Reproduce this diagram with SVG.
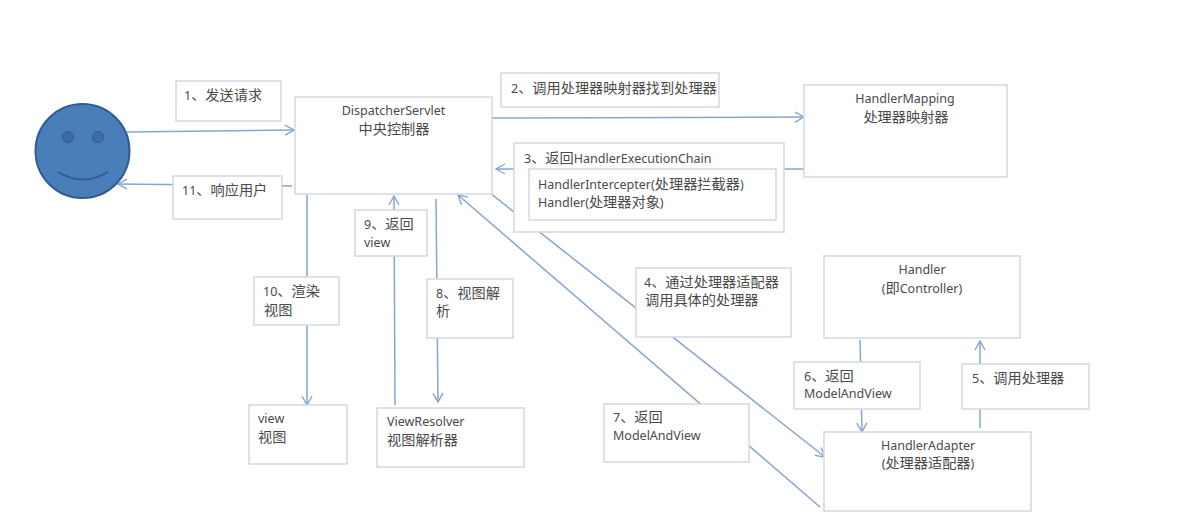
<svg xmlns="http://www.w3.org/2000/svg" width="1194" height="521" viewBox="0 0 1194 521">
<style>
.b{fill:#fff;stroke:#d6d7de;stroke-width:1.5}
.l{fill:none;stroke:#86a5d2;stroke-width:1.5}
text{font-family:"Noto Sans","Noto Sans CJK SC",sans-serif;font-size:12.5px;fill:#4a4a4a}
.c{font-size:14.2px}
.m{text-anchor:middle}
</style>
<defs>
<marker id="a" viewBox="0 0 12 12" refX="11" refY="6" markerWidth="12" markerHeight="12" markerUnits="userSpaceOnUse" orient="auto"><path d="M2 1L11 6L2 11" fill="none" stroke="#86a5d2" stroke-width="1.4"/></marker>
</defs>
<rect width="1194" height="521" fill="#fff"/>
<g id="connectors">
<path class="l" d="M127 132L294 130" marker-end="url(#a)"/>
<path class="l" d="M292 186L118 184" marker-end="url(#a)"/>
<path class="l" d="M492 118L804 117" marker-end="url(#a)"/>
<path class="l" d="M804 169L496 169" marker-end="url(#a)"/>
<path class="l" d="M490 193L825 457" marker-end="url(#a)"/>
<path class="l" d="M820 507L458 195" marker-end="url(#a)"/>
<path class="l" d="M307 195L307 405" marker-end="url(#a)"/>
<path class="l" d="M395 405L394 196" marker-end="url(#a)"/>
<path class="l" d="M436 199L438 402" marker-end="url(#a)"/>
<path class="l" d="M860 340L862 432" marker-end="url(#a)"/>
<path class="l" d="M980 428L980 341" marker-end="url(#a)"/>
</g>
<g id="user">
<circle cx="82.5" cy="151" r="47" fill="#4a7ebb" stroke="#2f5c8f" stroke-width="2"/>
<circle cx="68" cy="137" r="5.5" fill="#3d6ba3" stroke="#2f5c8f"/>
<circle cx="98" cy="137" r="5.5" fill="#3d6ba3" stroke="#2f5c8f"/>
<path d="M58 172Q83 187 108 172" fill="none" stroke="#2f5c8f" stroke-width="2"/>
</g>
<g id="dispatcher"><rect class="b" x="295" y="97" width="197" height="97"/><text class="m" x="393.500" y="115">DispatcherServlet</text><text class="m c" x="394" y="134">中央控制器</text></g>
<g id="label1"><rect class="b" x="176" y="81" width="105" height="40"/><text x="184" y="100"><tspan>1</tspan><tspan class="c">、发送请求</tspan></text></g>
<g id="label11"><rect class="b" x="173" y="176" width="109" height="43"/><text x="182" y="195"><tspan>11</tspan><tspan class="c">、响应用户</tspan></text></g>
<g id="label2"><rect class="b" x="501" y="73" width="218" height="34"/><text x="511" y="93"><tspan>2</tspan><tspan class="c">、调用处理器映射器找到处理器</tspan></text></g>
<g id="handlerMapping"><rect class="b" x="804" y="85" width="203" height="92"/><text class="m" x="905" y="103">HandlerMapping</text><text class="m c" x="906" y="122">处理器映射器</text></g>
<g id="label3"><rect class="b" x="514" y="143" width="270" height="89"/><text x="524" y="163"><tspan>3</tspan><tspan class="c">、返回</tspan><tspan>HandlerExecutionChain</tspan></text></g>
<g id="chain"><rect class="b" x="529" y="169" width="247" height="51"/><text x="538" y="189"><tspan>HandlerIntercepter(</tspan><tspan class="c">处理器拦截器</tspan><tspan>)</tspan></text><text x="538" y="207"><tspan>Handler(</tspan><tspan class="c">处理器对象</tspan><tspan>)</tspan></text></g>
<g id="label4"><rect class="b" x="636" y="268" width="155" height="69"/><text x="644" y="287"><tspan>4</tspan><tspan class="c">、通过处理器适配器</tspan></text><text class="c" x="645" y="305">调用具体的处理器</text></g>
<g id="handler"><rect class="b" x="824" y="256" width="196" height="82"/><text class="m" x="922" y="274">Handler</text><text class="m" x="922" y="293"><tspan>(</tspan><tspan class="c">即</tspan><tspan>Controller)</tspan></text></g>
<g id="label6"><rect class="b" x="794" y="362" width="126" height="47"/><text x="804" y="381"><tspan>6</tspan><tspan class="c">、返回</tspan></text><text x="804" y="398">ModelAndView</text></g>
<g id="label5"><rect class="b" x="962" y="364" width="127" height="45"/><text x="972" y="383"><tspan>5</tspan><tspan class="c">、调用处理器</tspan></text></g>
<g id="label7"><rect class="b" x="604" y="404" width="145" height="58"/><text x="613" y="422"><tspan>7</tspan><tspan class="c">、返回</tspan></text><text x="613" y="440">ModelAndView</text></g>
<g id="handlerAdapter"><rect class="b" x="824" y="432" width="207" height="79"/><text class="m" x="928" y="450">HandlerAdapter</text><text class="m" x="928" y="468"><tspan>(</tspan><tspan class="c">处理器适配器</tspan><tspan>)</tspan></text></g>
<g id="label9"><rect class="b" x="355" y="210" width="72" height="46"/><text x="364" y="229"><tspan>9</tspan><tspan class="c">、返回</tspan></text><text x="364" y="247">view</text></g>
<g id="label10"><rect class="b" x="254" y="277" width="85" height="48"/><text x="263" y="296"><tspan>10</tspan><tspan class="c">、渲染</tspan></text><text class="c" x="264" y="315">视图</text></g>
<g id="label8"><rect class="b" x="427" y="279" width="86" height="59"/><text x="436" y="298"><tspan>8</tspan><tspan class="c">、视图解</tspan></text><text class="c" x="436" y="316">析</text></g>
<g id="view"><rect class="b" x="249" y="405" width="98" height="59"/><text x="258" y="423">view</text><text class="c" x="258" y="442">视图</text></g>
<g id="viewResolver"><rect class="b" x="377" y="408" width="147" height="59"/><text x="387" y="426">ViewResolver</text><text class="c" x="387" y="445">视图解析器</text></g>
</svg>
